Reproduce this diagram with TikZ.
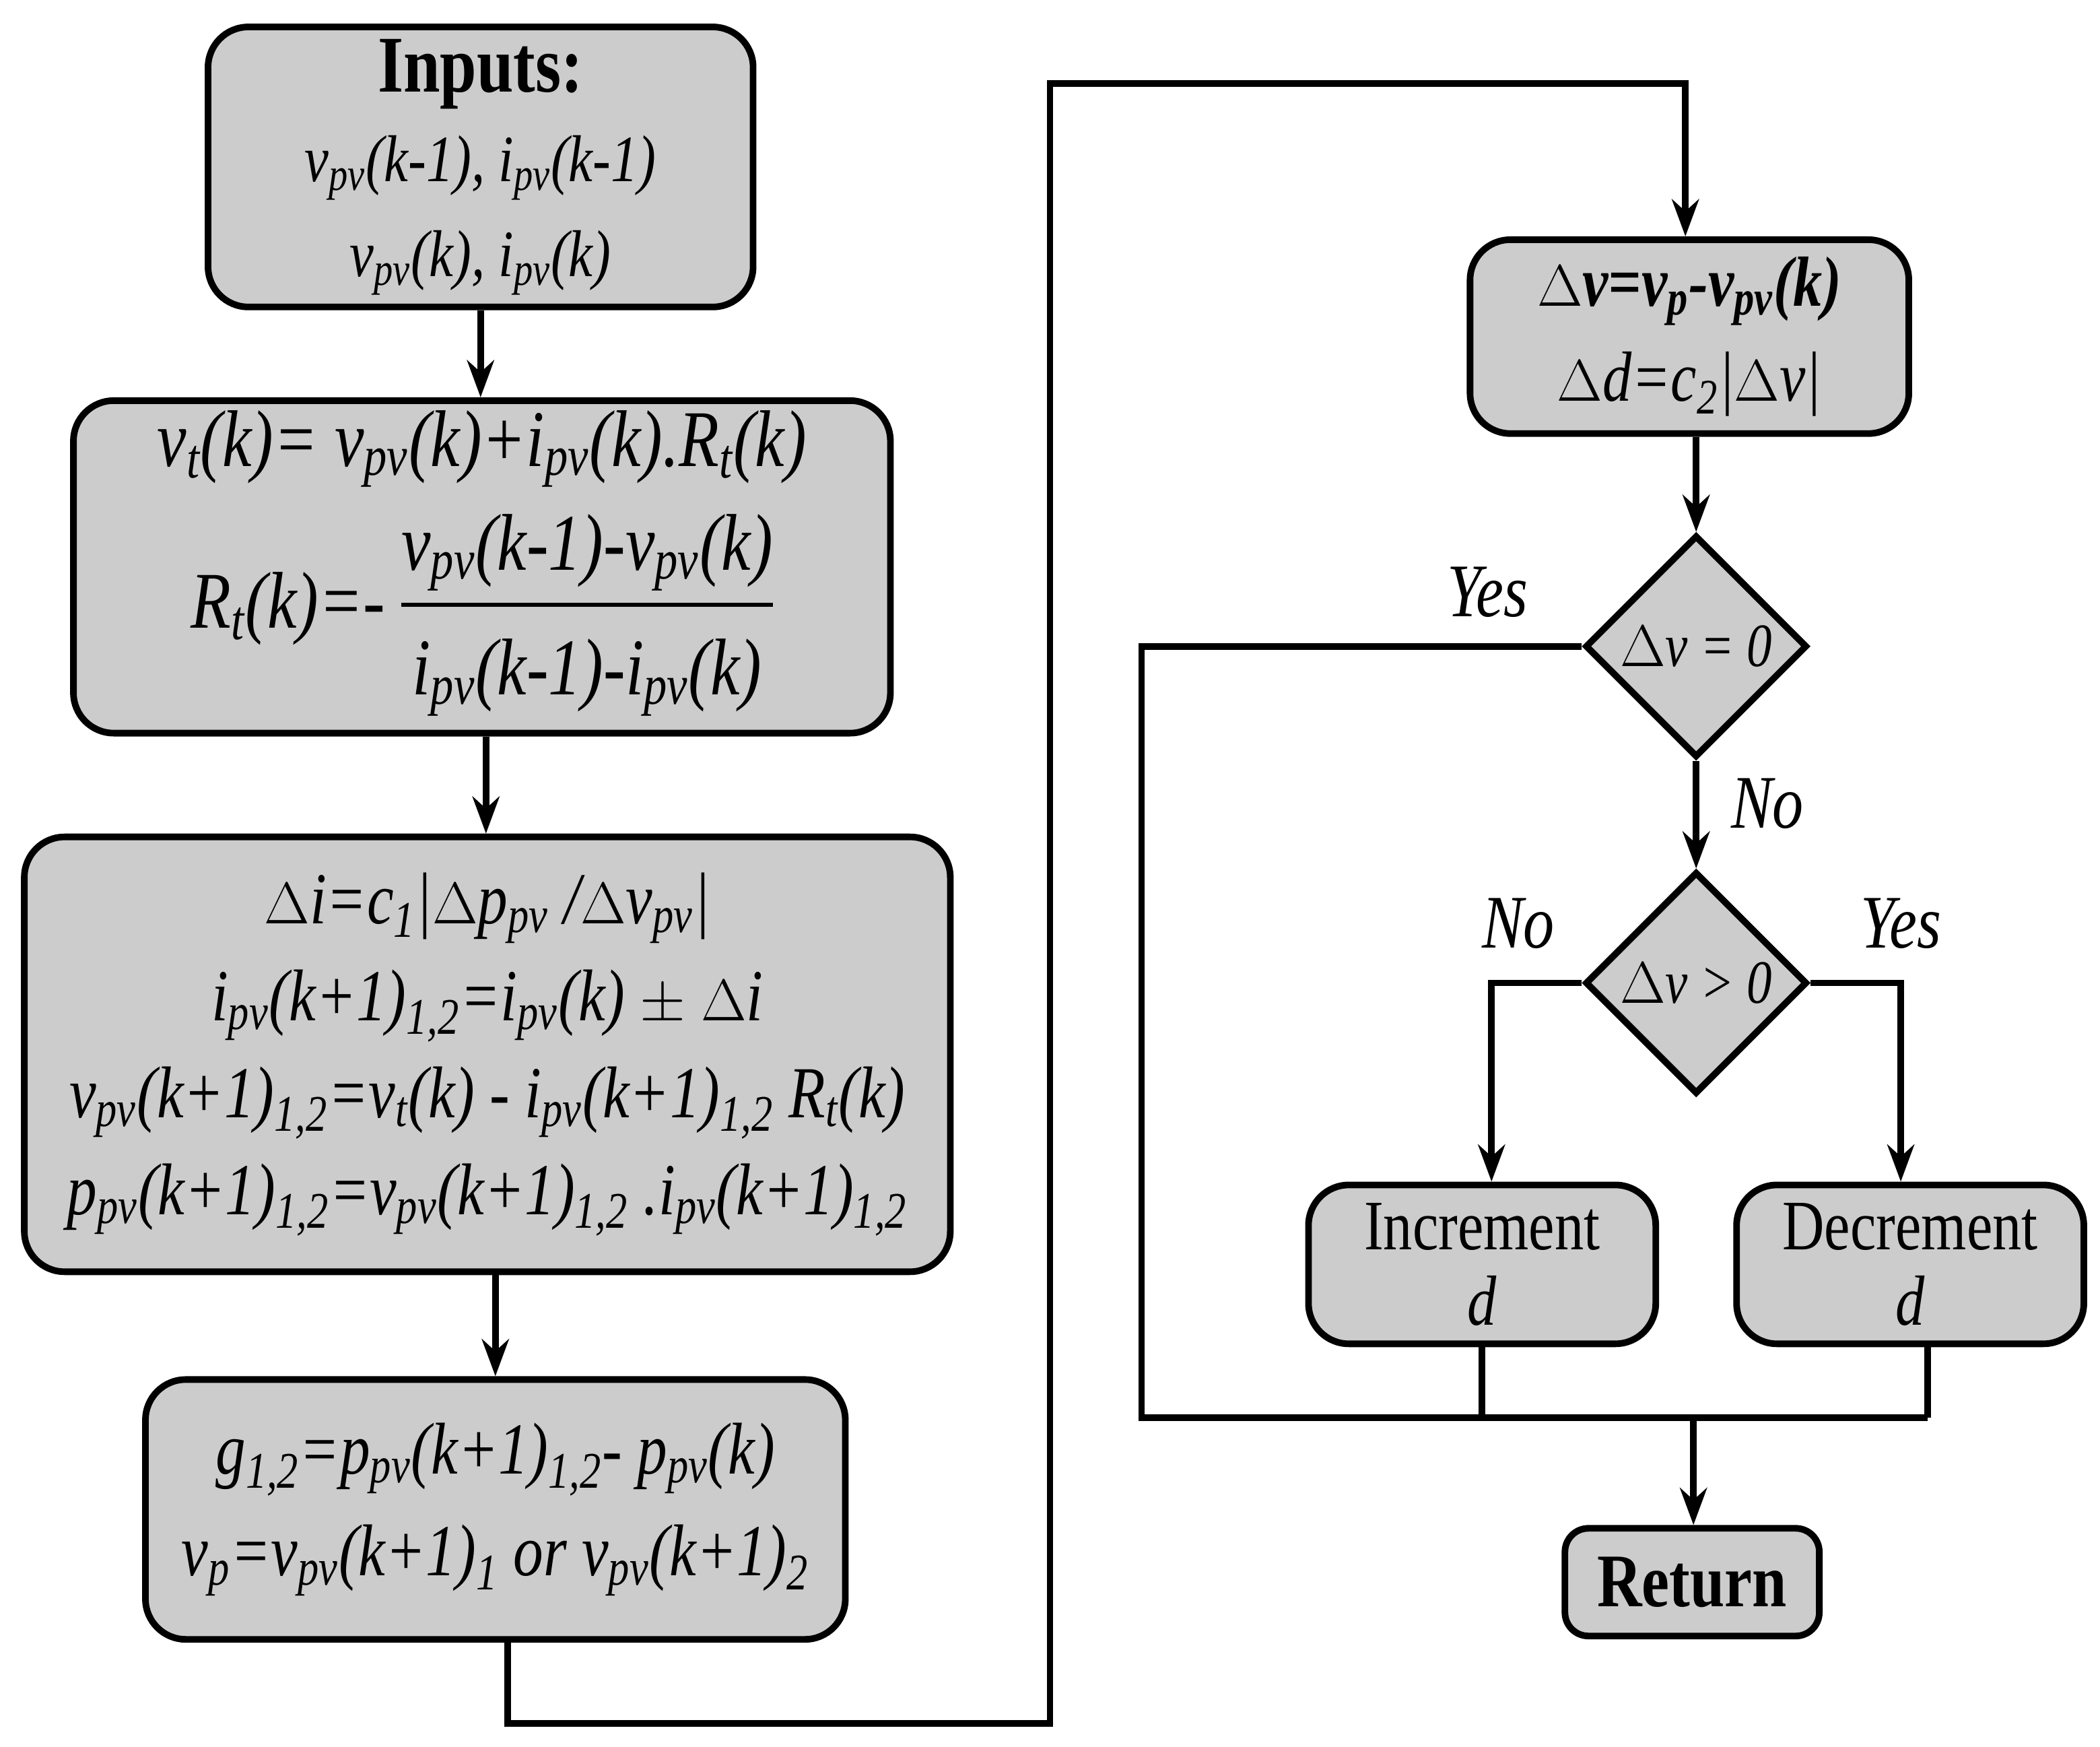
\documentclass[tikz,border=0pt]{standalone}
\usepackage{fontspec}
\setmainfont{Liberation Serif}[FakeStretch=0.82]
\usetikzlibrary{shapes.geometric,arrows.meta}
\newcommand{\ssb}[1]{\textsubscript{#1}}
\begin{document}
\begin{tikzpicture}[x=0.02cm,y=-0.02cm,
  box/.style={draw,line width=2.8pt,fill=black!20,rounded corners=0.6cm,align=center,inner sep=0pt},
  dia/.style={draw,diamond,line width=2.8pt,fill=black!20,inner sep=0pt,minimum width=3.3cm,minimum height=3.3cm,font=\fontsize{26}{30}\selectfont\itshape},
  ln/.style={line width=2.8pt},
  ar/.style={ln,-{Stealth[length=0.55cm,width=0.4cm]}},
  lab/.style={font=\fontsize{32}{36}\selectfont\itshape}]
\useasboundingbox (0,0) rectangle (1560,1297);
\node[box,minimum width=8.1cm,minimum height=4.16cm,font=\fontsize{28}{36}\selectfont\itshape] (b1) at (357,124)
 {{\upshape\bfseries\fontsize{34}{38}\selectfont Inputs:}\\[2pt] v\ssb{pv}(k-1), i\ssb{pv}(k-1)\\[4pt] v\ssb{pv}(k), i\ssb{pv}(k)};
\node[box,minimum width=12.14cm,minimum height=4.94cm,font=\fontsize{34}{40}\selectfont\itshape] (b2) at (358,421)
 {v\ssb{t}(k)= v\ssb{pv}(k)+i\ssb{pv}(k).R\ssb{t}(k)\\[6pt]
  R\ssb{t}(k)=- \begin{tabular}{@{}c@{}}v\ssb{pv}(k-1)-v\ssb{pv}(k)\\[2pt]\noalign{\hrule height 1.5pt}\rule{0pt}{1.1em}i\ssb{pv}(k-1)-i\ssb{pv}(k)\end{tabular}};
\node[box,minimum width=13.76cm,minimum height=6.46cm,font=\fontsize{31}{37}\selectfont\itshape] (b3) at (362,783)
 {$\Delta$i=c\ssb{1}|$\Delta$p\ssb{pv} /$\Delta$v\ssb{pv}|\\[4pt]
  i\ssb{pv}(k+1)\ssb{1,2}=i\ssb{pv}(k) $\pm$ $\Delta$i\\[4pt]
  v\ssb{pv}(k+1)\ssb{1,2}=v\ssb{t}(k) - i\ssb{pv}(k+1)\ssb{1,2} R\ssb{t}(k)\\[4pt]
  p\ssb{pv}(k+1)\ssb{1,2}=v\ssb{pv}(k+1)\ssb{1,2} .i\ssb{pv}(k+1)\ssb{1,2}};
\node[box,minimum width=10.4cm,minimum height=3.86cm,font=\fontsize{31}{37}\selectfont\itshape] (b4) at (368,1121)
 {g\ssb{1,2}=p\ssb{pv}(k+1)\ssb{1,2}- p\ssb{pv}(k)\\[6pt]
  v\ssb{p}=v\ssb{pv}(k+1)\ssb{1} or v\ssb{pv}(k+1)\ssb{2}};
\node[box,minimum width=6.52cm,minimum height=2.88cm,font=\fontsize{30}{36}\selectfont\itshape] (b5) at (1255,250)
 {{\bfseries $\Delta$v=v\ssb{p}-v\ssb{pv}(k)}\\[4pt] $\Delta$d=c\ssb{2}|$\Delta$v|};
\node[dia] (d1) at (1260,480) {$\Delta$v = 0};
\node[dia] (d2) at (1260,730) {$\Delta$v > 0};
\node[box,minimum width=5.16cm,minimum height=2.36cm,font=\fontsize{30}{32}\selectfont] (inc) at (1101,939) {Increment\\ \itshape d};
\node[box,minimum width=5.16cm,minimum height=2.36cm,font=\fontsize{30}{32}\selectfont] (dec) at (1419,939) {Decrement\\ \itshape d};
\node[box,rounded corners=0.35cm,minimum width=3.78cm,minimum height=1.6cm,font=\fontsize{32}{36}\selectfont\bfseries] (ret) at (1257,1175) {Return};
\coordinate (j) at (1258,1053);
\draw[ar] (b1) -- (b1|-b2.north);
\draw[ar] (b2.south-|361,0) -- (b3.north-|361,0);
\draw[ar] (b3.south-|368,0) -- (b4.north-|368,0);
\draw[ar] (b4.south-|377,0) -- (377,1280) -- (780,1280) -- (780,62) -- (1252,62) -- (b5.north-|1252,0);
\draw[ar] (b5.south-|1260,0) -- (d1.north);
\draw[ar] (d1.south) -- (d2.north);
\draw[ln] (d1.west) -- (848,480) -- (848,1053) -- (1432,1053);
\draw[ar] (d2.west) -- (1108,730) -- (inc.north-|1108,0);
\draw[ar] (d2.east) -- (1412,730) -- (dec.north-|1412,0);
\draw[ln] (inc.south) -- (1101,1053);
\draw[ln] (dec.south-|1432,0) -- (1432,1053);
\draw[ar] (j) -- (ret.north-|j);
\node[lab] at (1105,440) {Yes};
\node[lab] at (1313,597) {No};
\node[lab] at (1128,686) {No};
\node[lab] at (1412,686) {Yes};
\end{tikzpicture}
\end{document}
